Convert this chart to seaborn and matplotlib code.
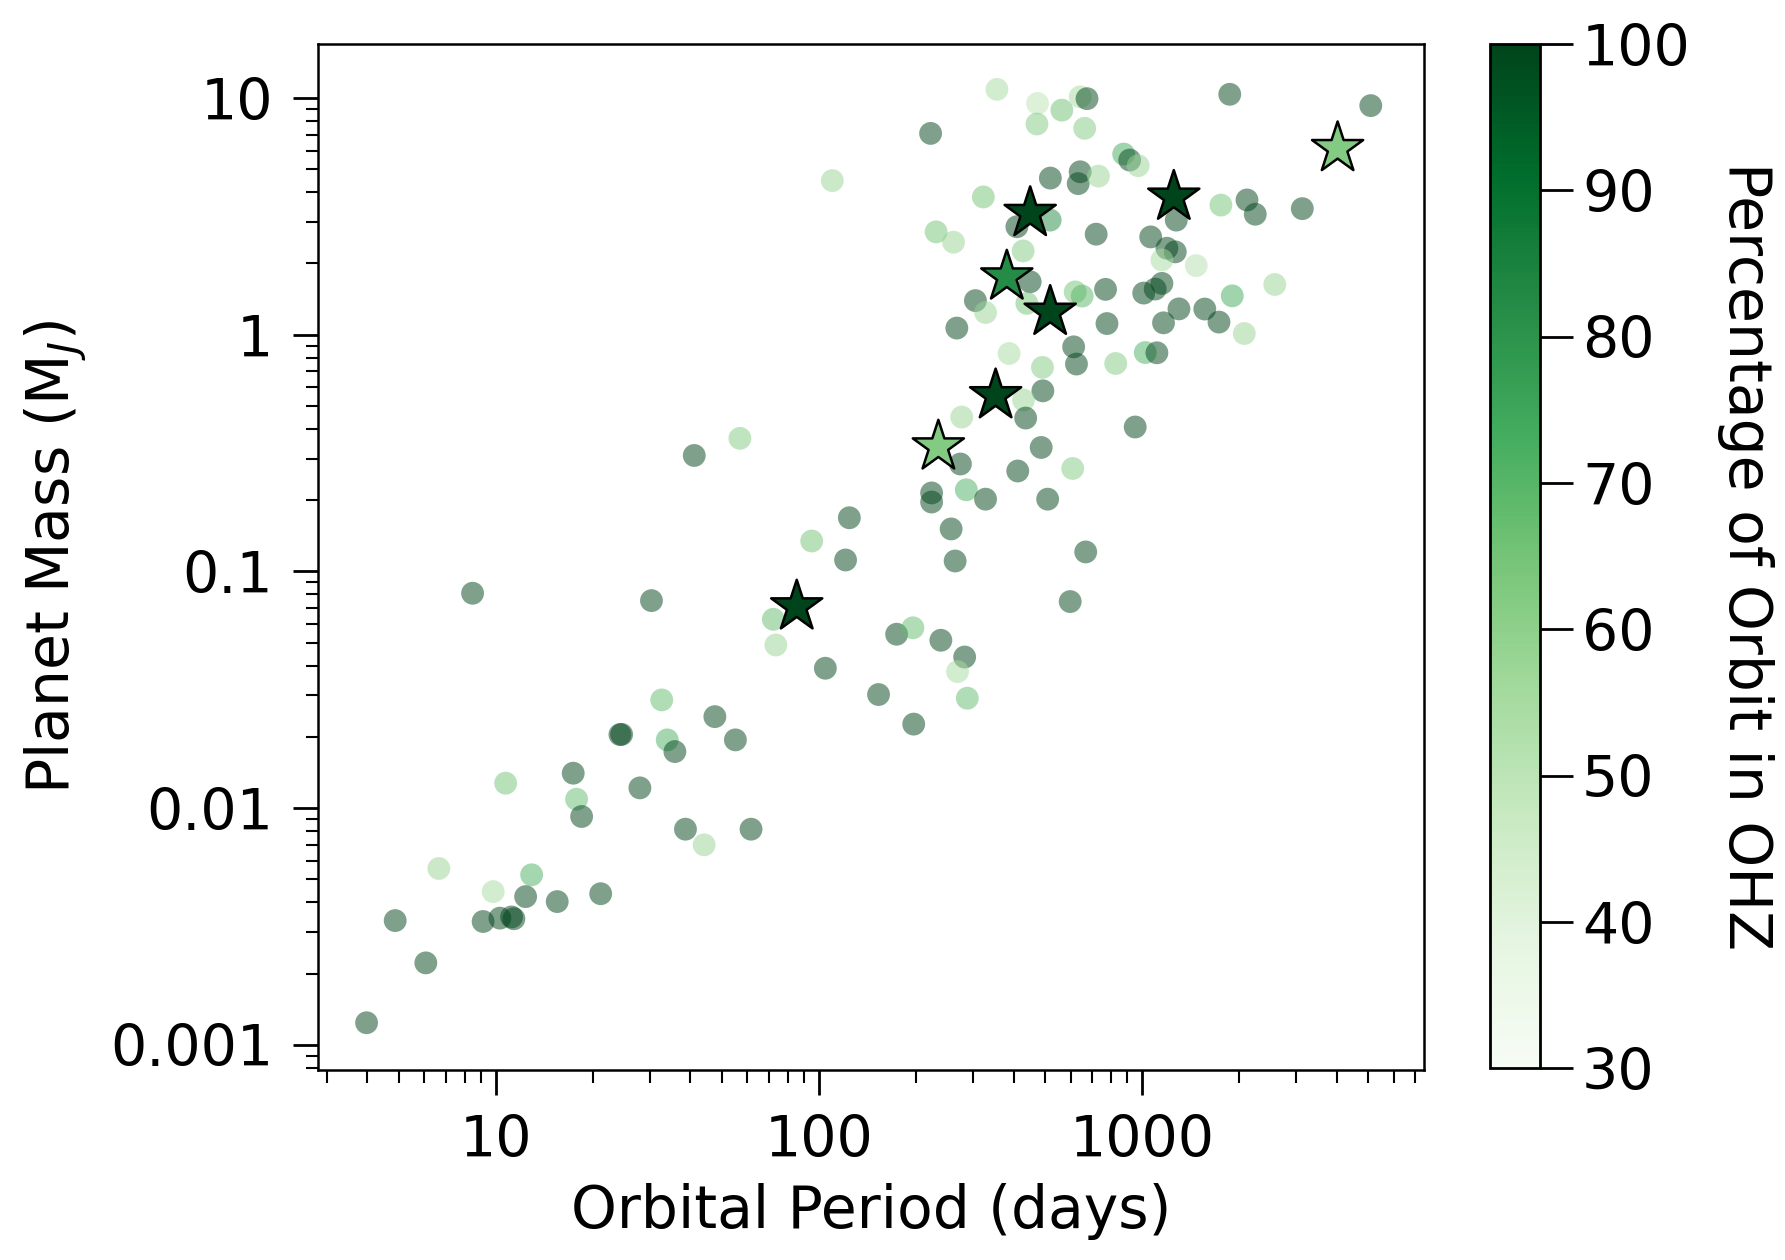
import pandas as pd
import seaborn as sns
import matplotlib.pyplot as plt
from matplotlib.colors import Normalize
from matplotlib.cm import ScalarMappable

# Planets (circles): orbital period (days), mass (Jupiter masses), % of orbit in OHZ
period_days = [3.98, 6.07, 4.88, 6.66, 10.72, 17.35, 17.77, 18.42, 27.9, 24.2,
               24.5, 33.9, 35.8, 38.6, 9.81, 12.9, 12.36, 9.13, 10.29, 11.18,
               11.37, 15.48, 21.1, 44.1, 61.6, 30.3, 8.47, 72.2, 73.5, 104.6,
               32.6, 47.6, 55.1, 94.9, 124.1, 120.8, 263.7, 668.6, 598.6, 173.8,
               195.2, 238.2, 282.2, 268.3, 287.6, 152.8, 196.3, 56.9, 41.1, 109.9,
               221.4, 355.2, 474.2, 564.1, 642.7, 674.9, 472.4, 663.7, 1866, 5097,
               876.4, 914.7, 971.8, 519.7, 642.7, 633.7, 732.1, 322.4, 519.0, 409.4,
               720.3, 230.3, 260.7, 428.2, 450.1, 770.1, 620.3, 652.0, 304.7, 327.5,
               266.9, 778.0, 439.6, 1010.7, 1097, 1150.8, 1752, 2110, 2238, 3129,
               1274.6, 1062.4, 1192.6, 1265.6, 1150.8, 1469.6, 2572, 1899.6, 1299.2, 1562,
               1164, 1728, 2070, 1022, 1110.4, 827.9, 951.2, 613.6, 626.0, 387.4,
               491.3, 492.7, 429.1, 276.4, 435.9, 486.8, 273.8, 412.0, 609.3, 223.0,
               223.0, 285.6, 327.5, 509.8, 256.3]
mass_mj = [0.00124, 0.00222, 0.00335, 0.00556, 0.01275, 0.01405, 0.01091, 0.00922, 0.01218, 0.02046,
           0.0205, 0.01943, 0.01734, 0.00815, 0.00444, 0.00523, 0.00423, 0.00332, 0.00343, 0.00347,
           0.00341, 0.00403, 0.00435, 0.0070, 0.00815, 0.0753, 0.0809, 0.0628, 0.0489, 0.0390,
           0.02866, 0.02436, 0.01943, 0.1345, 0.1686, 0.1118, 0.1107, 0.1209, 0.0746, 0.0543,
           0.0578, 0.0512, 0.0435, 0.03775, 0.02914, 0.0302, 0.02265, 0.365, 0.309, 4.48,
           7.09, 10.88, 9.49, 8.89, 10.12, 9.94, 7.77, 7.45, 10.37, 9.29,
           5.80, 5.47, 5.18, 4.59, 4.88, 4.35, 4.68, 3.82, 3.05, 2.86,
           2.66, 2.72, 2.46, 2.26, 1.674, 1.555, 1.517, 1.457, 1.394, 1.241,
           1.067, 1.115, 1.357, 1.50, 1.56, 1.648, 3.53, 3.71, 3.23, 3.41,
           3.05, 2.59, 2.32, 2.24, 2.07, 1.96, 1.63, 1.46, 1.286, 1.284,
           1.123, 1.131, 1.012, 0.841, 0.839, 0.756, 0.4076, 0.889, 0.752, 0.833,
           0.728, 0.5796, 0.530, 0.449, 0.4447, 0.334, 0.2844, 0.2657, 0.2723, 0.2146,
           0.1965, 0.2213, 0.202, 0.202, 0.1512]
ohz_pct = [100, 100, 100, 58, 65, 100, 68, 100, 100, 100,
           100, 72, 100, 100, 55, 72, 100, 100, 100, 100,
           100, 100, 100, 58, 100, 100, 100, 68, 58, 100,
           68, 100, 100, 65, 100, 100, 100, 100, 100, 100,
           68, 100, 100, 55, 68, 100, 100, 62, 100, 58,
           100, 55, 50, 66, 55, 100, 62, 62, 100, 100,
           74, 100, 58, 100, 100, 100, 58, 65, 82, 100,
           100, 65, 58, 62, 100, 100, 65, 70, 100, 58,
           100, 100, 65, 100, 100, 100, 65, 100, 100, 100,
           100, 100, 100, 100, 55, 52, 58, 74, 100, 100,
           100, 100, 58, 72, 100, 62, 100, 100, 100, 55,
           62, 100, 58, 58, 100, 100, 100, 100, 62, 100,
           100, 72, 100, 100, 100]

# Highlighted planets (stars)
star_period = [450.1, 1252.4, 4024, 381.1, 519.0, 351.9, 234.0, 85.3]
star_mass = [3.26, 3.82, 6.13, 1.758, 1.247, 0.5537, 0.3365, 0.071]
star_pct = [100, 100, 62, 82, 100, 100, 62, 100]

df = pd.DataFrame({'period': period_days, 'mass': mass_mj, 'pct': ohz_pct})
stars = pd.DataFrame({'period': star_period, 'mass': star_mass, 'pct': star_pct})

sns.set_style('ticks')
plt.rcParams['font.family'] = ['DejaVu Sans']
plt.rcParams['text.color'] = 'black'
plt.rcParams['axes.labelcolor'] = 'black'
plt.rcParams['xtick.color'] = 'black'
plt.rcParams['ytick.color'] = 'black'

fig = plt.figure(figsize=(17.85, 12.6), dpi=100)
ax = fig.add_axes([0.178, 0.151, 0.62, 0.814])
cax = fig.add_axes([0.835, 0.152, 0.028, 0.813])

norm = Normalize(vmin=30, vmax=100)

sns.scatterplot(data=df, x='period', y='mass', hue='pct', palette='Greens',
                hue_norm=norm, s=270, alpha=0.5, linewidth=0, legend=False, ax=ax)
sns.scatterplot(data=stars, x='period', y='mass', hue='pct', palette='Greens',
                hue_norm=norm, marker='*', s=1500, edgecolor='black',
                linewidth=1.8, legend=False, ax=ax, zorder=5)

ax.set_xscale('log')
ax.set_yscale('log')
ax.set_xlim(2.81, 7470)
ax.set_ylim(0.000785, 16.9)

ax.set_xticks([10, 100, 1000])
ax.set_xticklabels(['10', '100', '1000'])
ax.set_yticks([0.001, 0.01, 0.1, 1, 10])
ax.set_yticklabels(['0.001', '0.01', '0.1', '1', '10'])

ax.tick_params(which='major', length=18, width=2, pad=14, labelsize=41)
ax.tick_params(which='minor', length=9, width=1.5)
for sp in ax.spines.values():
    sp.set_linewidth(1.8)
    sp.set_color('black')

ax.set_xlabel('Orbital Period (days)', fontsize=42, labelpad=10)
ax.set_ylabel('Planet Mass (M$_J$)', fontsize=42, labelpad=15)

sm = ScalarMappable(norm=norm, cmap='Greens')
cb = fig.colorbar(sm, cax=cax)
cb.set_ticks(range(30, 101, 10))
cax.tick_params(length=24, width=2, pad=6, labelsize=41)
cb.outline.set_linewidth(2)
cb.outline.set_edgecolor('black')
cb.set_label('Percentage of Orbit in OHZ', rotation=270, labelpad=60, fontsize=42)

fig.savefig('out.png', dpi=100)
